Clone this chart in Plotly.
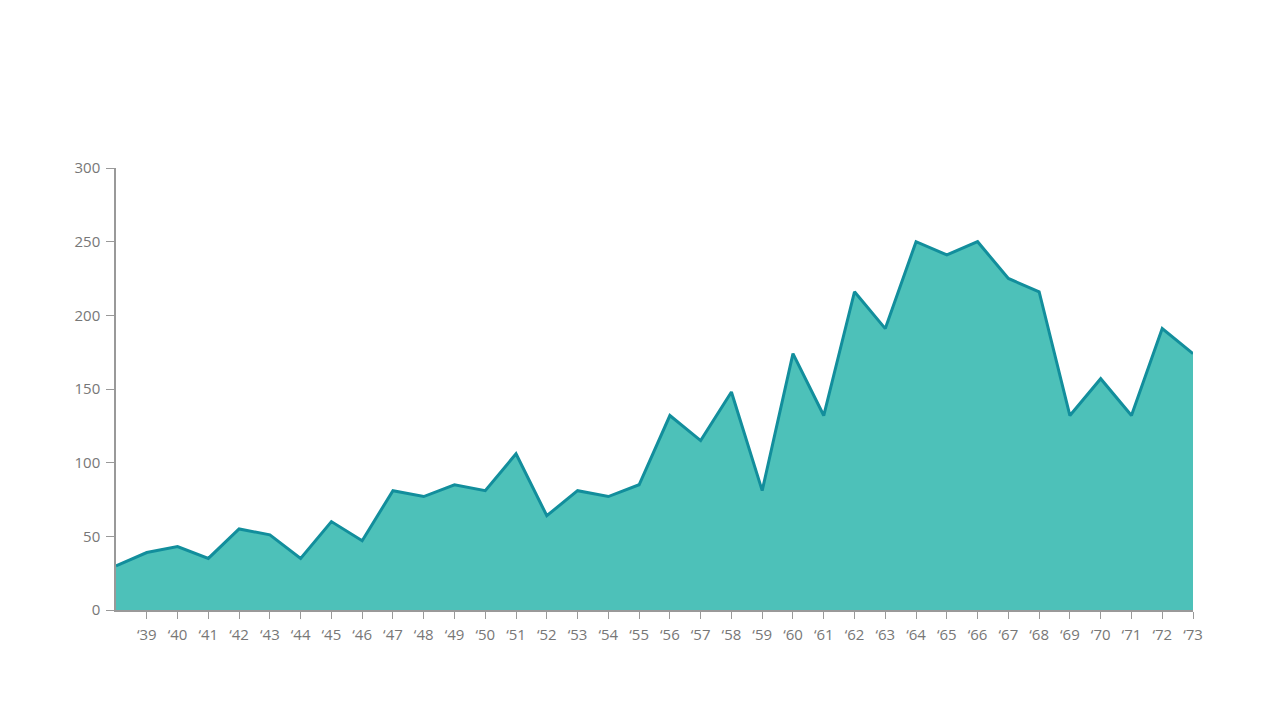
import plotly.graph_objects as go

years = list(range(1938, 1974))
values = [30, 39, 43, 35, 55, 51, 35, 60, 47, 81, 77, 85, 81, 106, 64, 81, 77, 85,
          132, 115, 148, 81, 174, 132, 216, 191, 250, 241, 250, 225, 216, 132, 157, 132, 191, 174]
tick_years = list(range(1939, 1974))
tick_labels = ["\u2018" + str(y)[2:] for y in tick_years]
y_ticks = [0, 50, 100, 150, 200, 250, 300]

fig = go.Figure()
fig.add_trace(go.Scatter(
    x=years, y=values, mode="lines", fill="tozeroy",
    fillcolor="#4DC1B9", line=dict(color="#128E9C", width=3),
    hoverinfo="x+y", showlegend=False,
))

axis_font = dict(family="Open Sans, sans-serif", size=15, color="#777777")
fig.update_layout(
    width=1280, height=720,
    margin=dict(l=108, r=95, t=160, b=118),
    paper_bgcolor="white", plot_bgcolor="white",
    xaxis=dict(
        range=[1938, 1973], tickvals=tick_years, ticktext=tick_labels,
        showgrid=False, zeroline=False, showline=True, linecolor="#999999", linewidth=1.5,
        ticks="outside", ticklen=7, tickcolor="#999999", tickfont=axis_font,
        ticklabelstandoff=3,
    ),
    yaxis=dict(
        range=[0, 300], tickvals=y_ticks, showgrid=False, zeroline=False,
        showline=True, linecolor="#999999", linewidth=1.5,
        ticks="outside", ticklen=8, tickcolor="#999999", tickfont=axis_font,
        ticklabelstandoff=3,
    ),
)
fig.write_html("out.html")
